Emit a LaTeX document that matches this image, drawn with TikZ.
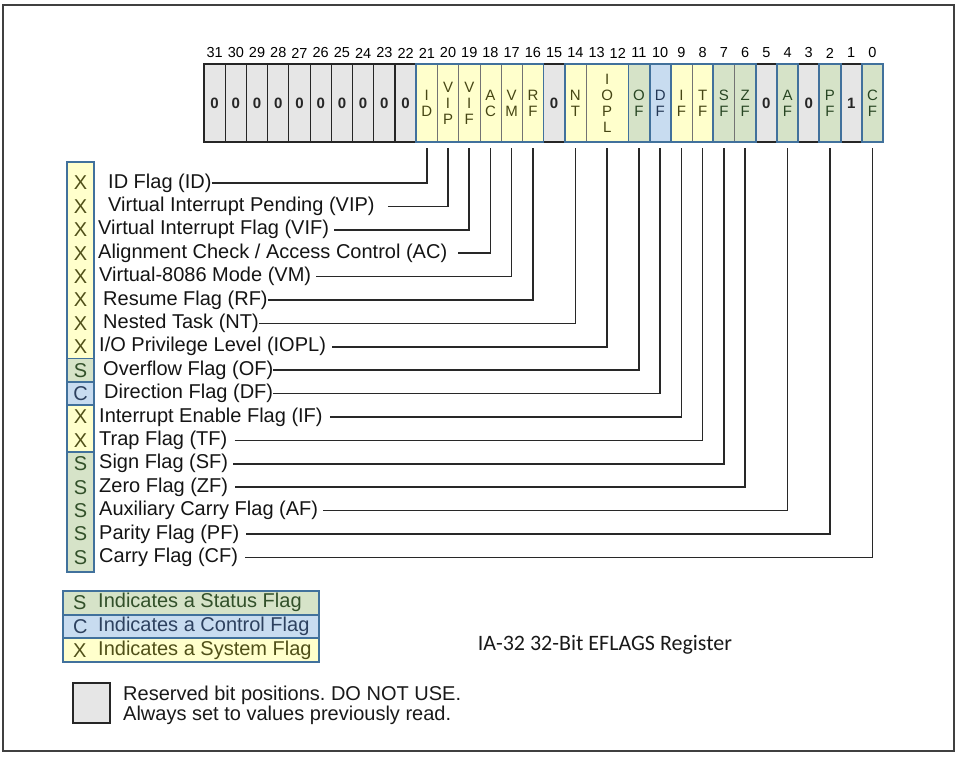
\documentclass[tikz,border=0pt]{standalone}
\usepackage{fontspec}
\setmainfont{Liberation Sans}
\newfontfamily\calfont{Carlito}
\definecolor{greyfill}{RGB}{230,230,230}
\definecolor{yelfill}{RGB}{255,255,204}
\definecolor{grnfill}{RGB}{214,227,200}
\definecolor{blufill}{RGB}{200,220,240}
\definecolor{grpborder}{RGB}{65,113,156}
\definecolor{yeltext}{RGB}{80,80,25}
\definecolor{grntext}{RGB}{50,80,42}
\definecolor{blutext}{RGB}{45,65,95}
\definecolor{ycelltext}{RGB}{70,70,20}
\definecolor{gcelltext}{RGB}{40,70,35}
\definecolor{bcelltext}{RGB}{35,55,85}
\definecolor{linecol}{RGB}{40,40,40}
\begin{document}
\frenchspacing
\begin{tikzpicture}[x=1pt,y=-1pt,
 cell/.style={minimum width=21.22pt, minimum height=78pt, inner sep=0pt, outer sep=0pt, align=center, font=\fontsize{15}{16}\selectfont},
 rescell/.style={cell, fill=greyfill, draw=black!85, line width=1.2pt, font=\fontsize{15}{16}\selectfont\bfseries, text=black!85},
 ycell/.style={cell, fill=yelfill, draw=black!55, line width=0.7pt, text=ycelltext},
 gcell/.style={cell, fill=grnfill, draw=black!55, line width=0.7pt, text=gcelltext},
 bcell/.style={cell, fill=blufill, draw=black!55, line width=0.7pt, text=bcelltext},
 grp/.style={draw=grpborder, line width=1.8pt},
 bitnum/.style={font=\fontsize{14.5}{14.5}\selectfont, inner sep=0pt, text=black},
 lab/.style={anchor=west, inner sep=0pt, font=\fontsize{20}{20}\selectfont, text=black!92},
 kind/.style={inner sep=0pt, font=\fontsize{20}{20}\selectfont},
 conn/.style={draw=linecol, line width=1.6pt},
 legrow/.style={draw=grpborder, line width=1.8pt, minimum width=256pt, minimum height=23.7pt, inner sep=0pt, outer sep=0pt},
 legtext/.style={anchor=west, inner sep=0pt, font=\fontsize{20}{20}\selectfont}
]
\useasboundingbox (0,0) rectangle (958,758);
\draw[line width=2pt, black!75] (3,5) rectangle (954,751);

% bit numbers
\foreach \b in {0,...,31}
  \node[bitnum] (n\b) at ({204+(31.5-\b)*21.22},53) {\b};

% reserved cells
\foreach \b/\v in {31/0,30/0,29/0,28/0,27/0,26/0,25/0,24/0,23/0,22/0,15/0,5/0,3/0,1/1}
  \node[rescell] (r\b) at ({204+(31.5-\b)*21.22},103) {\v};

% flag cells
\foreach \n/\b/\s/\t in {ID/21/ycell/{I\\D}, VIP/20/ycell/{V\\I\\P}, VIF/19/ycell/{V\\I\\F},
   AC/18/ycell/{A\\C}, VM/17/ycell/{V\\M}, RF/16/ycell/{R\\F}, NT/14/ycell/{N\\T},
   OF/11/gcell/{O\\F}, DF/10/bcell/{D\\F}, IF/9/ycell/{I\\F}, TF/8/ycell/{T\\F},
   SF/7/gcell/{S\\F}, ZF/6/gcell/{Z\\F}, AF/4/gcell/{A\\F}, PF/2/gcell/{P\\F}, CF/0/gcell/{C\\F}}
  \node[\s] (f\n) at ({204+(31.5-\b)*21.22},103) {\t};
\node[ycell, minimum width=42.44pt] (fIOPL) at ({204+18*21.22+21.22},103) {I\\O\\P\\L};

% group borders
\draw[grp] (fID.north west) rectangle (fRF.south east);
\draw[grp] (fNT.north west) rectangle (fIOPL.south east);
\draw[grp] (fOF.north west) rectangle (fOF.south east);
\draw[grp] (fDF.north west) rectangle (fDF.south east);
\draw[grp] (fIF.north west) rectangle (fTF.south east);
\draw[grp] (fSF.north west) rectangle (fZF.south east);
\draw[grp] (fAF.north west) rectangle (fAF.south east);
\draw[grp] (fPF.north west) rectangle (fPF.south east);
\draw[grp] (fCF.north west) rectangle (fCF.south east);

% left kind column
\draw[grp, fill=yelfill] (67,162) rectangle (94,358.5);
\draw[grp, fill=grnfill] (67,358.5) rectangle (94,381.9);
\draw[grp, fill=blufill] (67,381.9) rectangle (94,405.3);
\draw[grp, fill=yelfill] (67,405.3) rectangle (94,452.1);
\draw[grp, fill=grnfill] (67,452.1) rectangle (94,572);
\foreach \i/\c/\col in {0/X/yeltext,1/X/yeltext,2/X/yeltext,3/X/yeltext,4/X/yeltext,5/X/yeltext,
   6/X/yeltext,7/X/yeltext,8/S/grntext,9/C/blutext,10/X/yeltext,11/X/yeltext,
   12/S/grntext,13/S/grntext,14/S/grntext,15/S/grntext,16/S/grntext}
  \node[kind, text=\col] (k\i) at (80.5,{183+23.4*\i}) {\c};

% labels and connectors
\foreach \i/\n/\t/\x/\g in {0/ID/{ID Flag (ID)}/108/0,
   1/VIP/{Virtual Interrupt Pending (VIP)}/108/13,
   2/VIF/{Virtual Interrupt Flag (VIF)}/98/5,
   3/AC/{Alignment Check / Access Control (AC)}/98/11,
   4/VM/{Virtual-8086 Mode (VM)}/99/5,
   5/RF/{Resume Flag (RF)}/103/0,
   6/NT/{Nested Task (NT)}/103/0,
   7/IOPL/{I/O Privilege Level (IOPL)}/99/6,
   8/OF/{Overflow Flag (OF)}/103/0,
   9/DF/{Direction Flag (DF)}/104/0,
   10/IF/{Interrupt Enable Flag (IF)}/99/7,
   11/TF/{Trap Flag (TF)}/99/7,
   12/SF/{Sign Flag (SF)}/99/5,
   13/ZF/{Zero Flag (ZF)}/99/7,
   14/AF/{Auxiliary Carry Flag (AF)}/99/5,
   15/PF/{Parity Flag (PF)}/99/7,
   16/CF/{Carry Flag (CF)}/99/7}
{
  \node[lab] (l\n) at (\x,{183+23.4*\i}) {\t};
  \draw[conn] ([xshift=\g pt]l\n.east) -| ([yshift=-6pt]f\n.south);
}

% legend
\node[legrow, fill=grnfill] (legS) at (191,602.8) {};
\node[legrow, fill=blufill] (legC) at (191,626.5) {};
\node[legrow, fill=yelfill] (legX) at (191,650.2) {};
\node[legtext, text=grntext] (legSk) at (73,602.8) {S};
\node[legtext, text=grntext] (legSt) at (98,602.8) {Indicates a Status Flag};
\node[legtext, text=blutext] (legCk) at (73,626.5) {C};
\node[legtext, text=blutext] (legCt) at (98,626.5) {Indicates a Control Flag};
\node[legtext, text=yeltext] (legXk) at (73,650.2) {X};
\node[legtext, text=yeltext] (legXt) at (98,650.2) {Indicates a System Flag};

% reserved legend
\node[draw=black!85, line width=2pt, fill=greyfill, minimum width=37pt, minimum height=40pt, inner sep=0pt] (resbox) at (91.5,703) {};
\node[anchor=west, align=left, inner sep=0pt, font=\fontsize{20}{20}\selectfont, text=black!90] (restext) at (123,705) {Reserved bit positions. DO NOT USE.\\Always set to values previously read.};

% caption
\node[inner sep=0pt, font=\calfont\fontsize{22}{22}\selectfont, text=black!90] (cap) at (605,645) {IA-32 32-Bit EFLAGS Register};
\end{tikzpicture}
\end{document}
